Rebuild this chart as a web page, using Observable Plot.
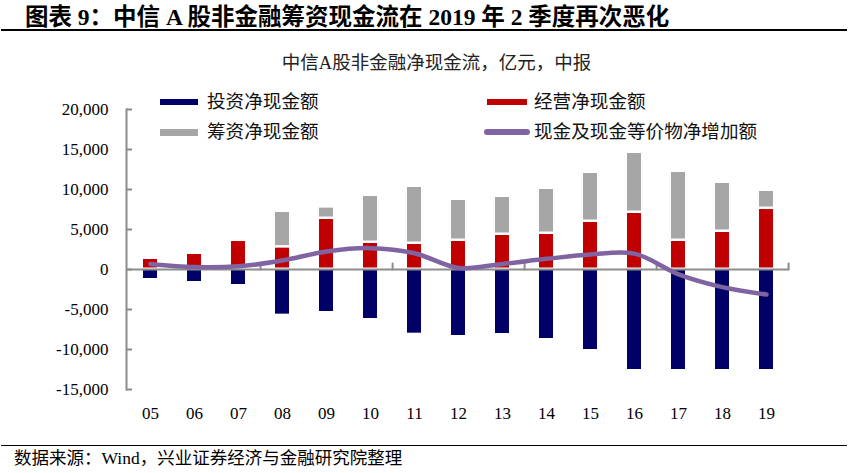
<!DOCTYPE html>
<html><head><meta charset="utf-8">
<script src="https://cdn.jsdelivr.net/npm/d3@7"></script>
<script src="https://cdn.jsdelivr.net/npm/@observablehq/plot@0.6"></script>
<style>
body{margin:0;background:#fff;}
#wrap{position:relative;width:857px;height:473px;overflow:hidden;font-family:"Liberation Serif","Noto Sans CJK SC",serif;color:#000;}
#chart{position:absolute;left:0;top:0;}
.abs{position:absolute;white-space:nowrap;}
#title{left:25px;top:4px;font-size:23.5px;line-height:26px;font-weight:bold;}
#subtitle{left:0;width:873px;text-align:center;top:51px;font-size:18.5px;line-height:24px;color:#222;}
.hline{position:absolute;left:1px;width:846px;height:1.5px;background:#000;}
#source{left:14px;top:446px;font-size:17.5px;line-height:24px;}
.sw{position:absolute;}
.lt{position:absolute;font-size:18.6px;line-height:22px;white-space:nowrap;color:#111;}
</style></head><body>
<div id="wrap">
  <div id="chart"></div>
  <div class="abs" id="title">图表 9：中信 A 股非金融筹资现金流在 2019 年 2 季度再次恶化</div>
  <div class="hline" style="top:29px"></div>
  <div class="abs" id="subtitle">中信A股非金融净现金流，亿元，中报</div>
  <div id="legend"></div>
  <div class="hline" style="top:444.5px"></div>
  <div class="abs" id="source">数据来源：Wind，兴业证券经济与金融研究院整理</div>
</div>
<script>
// ---- data (亿元) ----
const years = ["05","06","07","08","09","10","11","12","13","14","15","16","17","18","19"];
const investing = [-1125,-1500,-1875,-5580,-5250,-6125,-7960,-8250,-8000,-8625,-10000,-12500,-12500,-12500,-12500];
const operating = [1250,1875,3500,2670,6250,3250,3125,3500,4250,4375,5875,7000,3500,4625,7500];
const financing = [0,0,0,4455,1420,5875,7125,5125,4750,5625,6125,7500,8625,6125,2250];
const netIncrease = [700,300,400,1125,2250,2670,2040,200,700,1330,1875,1980,-600,-2200,-3125];
const yTicks = [-15000,-10000,-5000,0,5000,10000,15000,20000];
const seriesNames = ["投资净现金额","经营净现金额","筹资净现金额","现金及现金等价物净增加额"];
const colors = {inv:"#000066", op:"#C00000", fin:"#A6A6A6", net:"#8064A2", axis:"#8C8C8C"};
const tickGroupEnds = ["07","10","13","16","19"];

const rows = years.map((y,i)=>({year:y, inv:investing[i], op:operating[i], fin:financing[i], net:netIncrease[i]}));

const W = 857, H = 473, mL = 126, mR = 68, mT = 109, mB = 84;
const step = (W - mL - mR) / years.length;
const fmt = d => d.toLocaleString("en-US");

const plot = Plot.plot({
  width: W, height: H,
  marginLeft: mL, marginRight: mR, marginTop: mT, marginBottom: mB,
  style: {fontFamily: '"Liberation Serif","Noto Sans CJK SC",serif', fontSize: "17px", color: "#000", background: "transparent"},
  x: {domain: years, paddingInner: 0.683, paddingOuter: 0.3415, label: null},
  y: {domain: [-15000, 20000], label: null},
  marks: [
    Plot.barY(rows, {x:"year", y1:0, y2:"inv", fill:colors.inv, insetTop:1}),
    Plot.barY(rows, {x:"year", y1:0, y2:"op", fill:colors.op, insetBottom:1.5}),
    Plot.barY(rows.filter(d=>d.fin>0), {x:"year", y1:"op", y2:d=>d.op+d.fin, fill:colors.fin, insetBottom:2.5}),
    Plot.ruleY([0], {stroke:colors.axis, strokeWidth:2}),
    Plot.frame({anchor:"left", stroke:colors.axis, strokeWidth:2}),
    Plot.tickY(yTicks, {y:d=>d, stroke:colors.axis, strokeWidth:2, insetRight:(W-mL-mR)-6}),
    Plot.vector(tickGroupEnds, {x:d=>d, y:0, dx:step/2, length:6, rotate:0, anchor:"start", stroke:colors.axis, strokeWidth:2,
      shape:{draw(ctx,l){ctx.moveTo(0,0);ctx.lineTo(0,-l);}}}),
    Plot.lineY(rows, {x:"year", y:"net", curve:"catmull-rom", stroke:colors.net, strokeWidth:4.5, strokeLinecap:"round", strokeLinejoin:"round"}),
    Plot.axisY({ticks:yTicks, tickFormat:fmt, tickSize:0, tickPadding:18, fontSize:17, label:null}),
    Plot.axisX({tickSize:0, tickPadding:17, fontSize:17, label:null})
  ]
});
document.getElementById("chart").appendChild(plot);

// ---- legend ----
const legend = document.getElementById("legend");
const items = [
  {name:seriesNames[0], color:colors.inv, sx:160, sw:38, y:101.5, th:6, tx:207, round:false},
  {name:seriesNames[1], color:colors.op, sx:487, sw:40, y:101.5, th:6, tx:534, round:false},
  {name:seriesNames[2], color:colors.fin, sx:160, sw:38, y:132, th:7, tx:207, round:false},
  {name:seriesNames[3], color:colors.net, sx:484, sw:46, y:131.5, th:6, tx:534, round:true}
];
for (const it of items) {
  const s = document.createElement("div");
  s.className = "sw";
  s.style.cssText = `left:${it.sx}px;top:${it.y-it.th/2}px;width:${it.sw}px;height:${it.th}px;background:${it.color};border-radius:${it.round?it.th/2:0}px;`;
  legend.appendChild(s);
  const t = document.createElement("div");
  t.className = "lt";
  t.textContent = it.name;
  t.style.left = it.tx + "px";
  t.style.top = (it.y - 11) + "px";
  legend.appendChild(t);
}
</script>
</body></html>
